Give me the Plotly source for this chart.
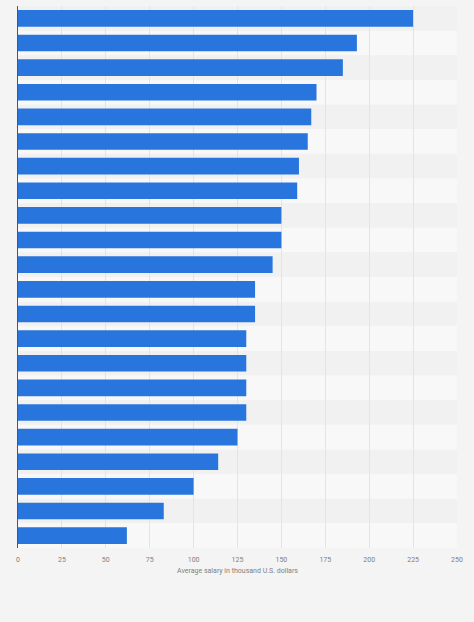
import plotly.graph_objects as go

# category names are not shown in the chart, so these are placeholders
categories = [f"Rank {i}" for i in range(1, 23)]
salaries = [225, 193, 185, 170, 167, 165, 160, 159, 150, 150, 145,
            135, 135, 130, 130, 130, 130, 125, 114, 100, 83, 62]
x_ticks = [0, 25, 50, 75, 100, 125, 150, 175, 200, 225, 250]

bar_color = "#2876dd"

fig = go.Figure()

fig.add_trace(go.Bar(
    x=salaries,
    y=categories,
    orientation="h",
    marker=dict(color=bar_color, line_width=0),
    hovertemplate="%{x}<extra></extra>",
))

# alternating row stripes behind the bars
for i, cat in enumerate(categories):
    fig.add_shape(
        type="rect", xref="paper", yref="y",
        x0=0, x1=1, y0=i - 0.5, y1=i + 0.5,
        fillcolor="#f1f1f1" if i % 2 == 0 else "#f8f8f8",
        line_width=0, layer="below",
    )

fig.update_layout(
    width=474, height=622,
    margin=dict(l=18, r=17, t=6, b=74),
    paper_bgcolor="#f4f4f4",
    plot_bgcolor="#f8f8f8",
    bargap=0.325,
    showlegend=False,
    font=dict(family="Roboto, Arial, sans-serif", size=7, color="#666666"),
    xaxis=dict(
        range=[0, 250],
        tickvals=x_ticks,
        gridcolor="#e4e4e4",
        gridwidth=1,
        zeroline=False,
        showline=False,
        ticks="",
        ticklabelstandoff=6,
        tickfont=dict(size=7, color="#808080"),
        title=dict(text="Average salary in thousand U.S. dollars",
                   font=dict(size=7, color="#808080"), standoff=5),
        layer="below traces",
    ),
    yaxis=dict(
        type="category",
        autorange="reversed",
        showticklabels=False,
        showgrid=False,
        zeroline=False,
        showline=True,
        linecolor="#555555",
        linewidth=1,
        ticks="",
    ),
)

# drop the default page margin so the figure sits flush in the window
fig.write_html("out.html", config={"displayModeBar": False},
               post_script="document.body.style.margin='0';")
